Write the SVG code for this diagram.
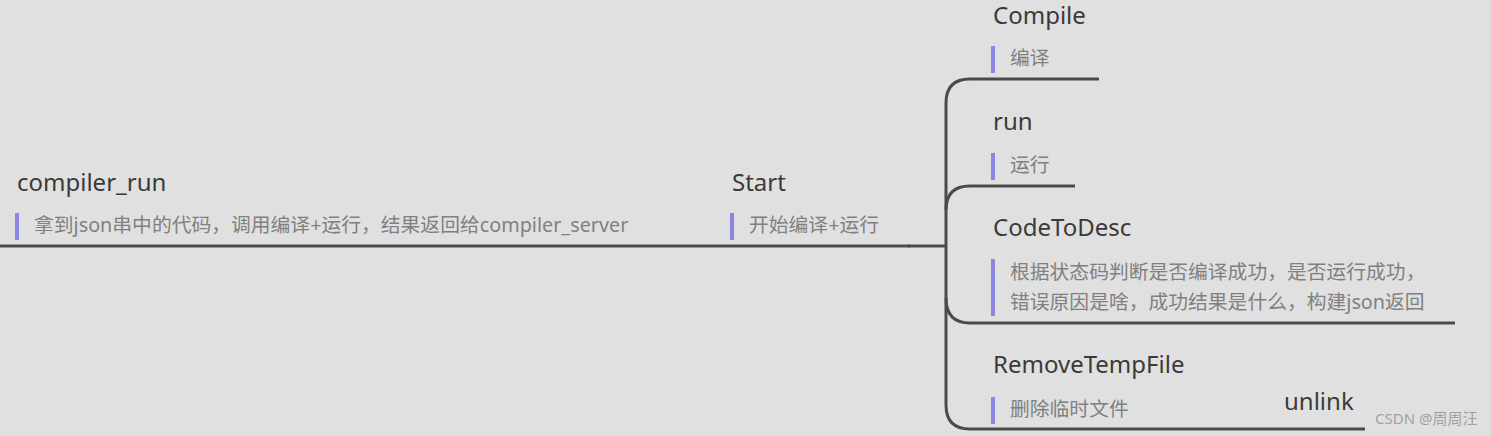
<svg xmlns="http://www.w3.org/2000/svg" width="1491" height="436" viewBox="0 0 1491 436">
<style>
.t{font-family:"Noto Sans","Noto Sans CJK SC",sans-serif;font-size:24px;fill:#3a3a3a}
.n{font-family:"Noto Sans","Noto Sans CJK SC",sans-serif;font-size:19.8px;fill:#808080}
.w{font-family:"Noto Sans","Noto Sans CJK SC",sans-serif;font-size:15px;fill:#a0a0a0}
.bar{fill:#8b86e0}
.l{fill:none;stroke:#4a4a4e;stroke-width:3}
</style>
<rect width="1491" height="436" fill="#e0e0e0"/>
<g id="connectors">
<path class="l" d="M0 246H910"/>
<path class="l" d="M908 246H946"/>
<path class="l" d="M1099 79H970Q946 79 946 103V405Q946 429 970 429H1365"/>
<path class="l" d="M1075 186H970Q946 186 946 210"/>
<path class="l" d="M946 298Q946 323 970 323H1455"/>
</g>
<g id="compiler_run"><text class="t" x="17" y="191">compiler_run</text><rect class="bar" x="15" y="213" width="4" height="27"/><text class="n" x="34" y="232">拿到json串中的代码，调用编译+运行，结果返回给compiler_server</text></g>
<g id="start"><text class="t" x="732" y="191">Start</text><rect class="bar" x="730" y="213" width="4" height="27"/><text class="n" x="749" y="232">开始编译+运行</text></g>
<g id="compile"><text class="t" x="993" y="24">Compile</text><rect class="bar" x="991" y="46" width="4" height="27"/><text class="n" x="1010" y="65">编译</text></g>
<g id="run"><text class="t" x="993" y="130">run</text><rect class="bar" x="991" y="153" width="4" height="27"/><text class="n" x="1010" y="172">运行</text></g>
<g id="codetodesc"><text class="t" x="993" y="236">CodeToDesc</text><rect class="bar" x="991" y="259" width="4" height="57"/><text class="n" x="1010" y="279">根据状态码判断是否编译成功，是否运行成功，</text><text class="n" x="1010" y="309">错误原因是啥，成功结果是什么，构建json返回</text></g>
<g id="removetempfile"><text class="t" x="993" y="373">RemoveTempFile</text><rect class="bar" x="991" y="397" width="4" height="27"/><text class="n" x="1010" y="416">删除临时文件</text></g>
<g id="unlink"><text class="t" x="1284" y="410">unlink</text></g>
<text class="w" x="1375" y="424">CSDN @周周汪</text>
</svg>
